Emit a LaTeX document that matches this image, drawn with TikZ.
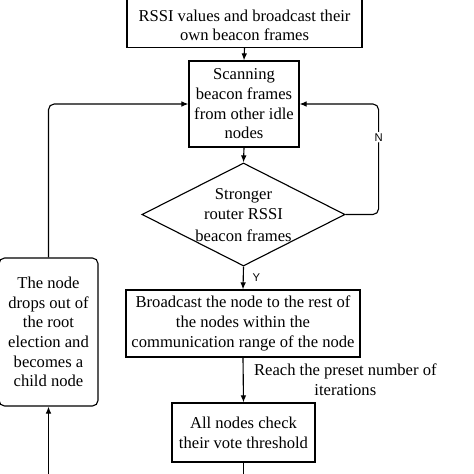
\documentclass[tikz,border=0pt]{standalone}
\usepackage{fontspec}
\setmainfont{Liberation Serif}
\newfontfamily\labelfont{Liberation Sans}
\usetikzlibrary{shapes.geometric, arrows.meta}

\begin{document}
\begin{tikzpicture}[x=0.025cm, y=-0.025cm, line width=0.8pt, >={Latex[length=5pt,width=4pt]},
    every node/.style={font=\fontsize{11.8}{14}\selectfont, align=center},
    box/.style={draw, inner sep=2pt},
    yn/.style={font=\labelfont\fontsize{8}{9}\selectfont}]
    \useasboundingbox (0,0) rectangle (474,474);
    \clip (0,0) rectangle (474,474);
    % Caselle
    \node[box, minimum width=5.875cm, minimum height=1.65cm, anchor=south] (rssi) at (244.5,48) {\strut\\RSSI values and broadcast their\\own beacon frames};
    \node[box, minimum width=2.75cm, minimum height=2.15cm] (scan) at (244,104) {Scanning\\beacon frames\\from other idle\\nodes};
    \node[draw, diamond, minimum width=5.075cm, minimum height=2.575cm, inner sep=0pt] (dec) at (243.5,214.5) {};
    \node (dectext) at (243.5,215) {Stronger\\router RSSI\\[2pt]beacon frames};
    \node[box, minimum width=5.85cm, minimum height=1.675cm] (bcast) at (243,323.5) {Broadcast the node to the rest of\\the nodes within the\\communication range of the node};
    \node[box, minimum width=3.575cm, minimum height=1.475cm] (check) at (243.5,432.5) {All nodes check\\their vote threshold};
    \node[box, rounded corners=4pt, minimum width=2.475cm, minimum height=3.7cm] (drop) at (48.5,332) {The node\\drops out of\\the root\\election and\\becomes a\\child node};
    \coordinate (checkout) at (243.5,490);
    \coordinate (dropin) at (48.5,490);
    % Frecce
    \draw[->] (rssi.south) -- (scan.north);
    \draw[->] (scan.south) -- (dec.north);
    \draw[->] (dec.south) -- node[yn, right, pos=0.5, xshift=3pt] {Y} (bcast.north);
    \draw[->] (bcast.south) -- node[right, xshift=4pt] {Reach the preset number of\\iterations} (check.north);
    \draw (check.south) -- (checkout);
    \draw[->, rounded corners=4pt] (dec.east) -- ++(33,0) |- node[yn, fill=white, inner sep=1pt, pos=0.35] {N} (scan.east);
    \draw[->] (dropin) -- (drop.south);
    \draw[->, rounded corners=4pt] (drop.north) |- (scan.west);
\end{tikzpicture}
\end{document}
